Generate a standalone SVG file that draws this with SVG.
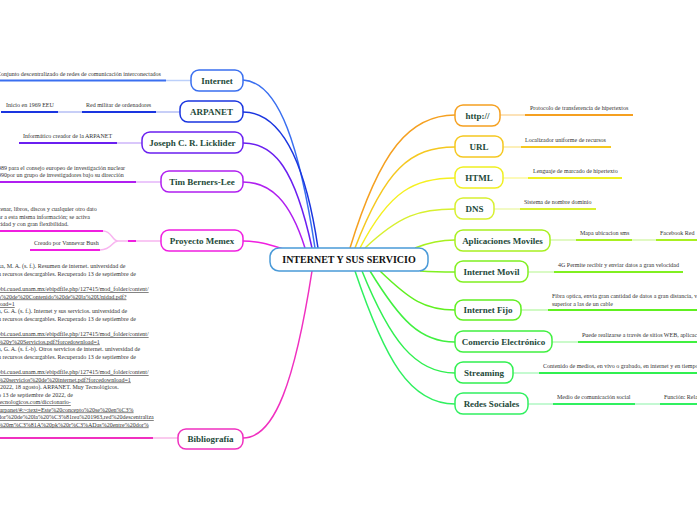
<svg xmlns="http://www.w3.org/2000/svg" width="697" height="520" viewBox="0 0 697 520">
<style>
.n{fill:#fff;stroke-width:1.5}
.t{font-family:"Liberation Serif",serif;font-weight:bold;font-size:9px;fill:#1e4a3a;text-anchor:middle}
.l{font-family:"Liberation Serif",serif;font-size:6px;fill:#333}
.u{text-decoration:underline}
.c{fill:none;stroke-width:1.5}
.k{fill:none;stroke-width:2}
</style>
<rect width="697" height="520" fill="#fff"/>
<g id="connectors">
<path class="c" stroke="#3a6ff0" d="M315,248 C300,150 280,82 243,80"/>
<path class="c" stroke="#1a35e0" d="M318,248 C305,160 280,112 243,112"/>
<path class="c" stroke="#6a1ff0" d="M312,248 C295,170 275,143 243,143"/>
<path class="c" stroke="#b01ff0" d="M305,248 C290,200 270,182 243,182"/>
<path class="c" stroke="#f01fe0" d="M290,251 C270,245 260,241 243,241"/>
<path class="c" stroke="#f030c0" d="M312,271 C295,380 275,438 243,438"/>
<path class="c" stroke="#f5a020" d="M350,248 C380,150 410,115 455,115"/>
<path class="c" stroke="#f5c820" d="M355,248 C385,170 410,147 455,147"/>
<path class="c" stroke="#f5f020" d="M360,248 C390,190 415,178 455,178"/>
<path class="c" stroke="#d8f030" d="M365,248 C400,215 420,209 455,209"/>
<path class="c" stroke="#a8f020" d="M415,248 C430,242 440,240 455,240"/>
<path class="c" stroke="#80f020" d="M420,271 C435,272 440,272 455,272"/>
<path class="c" stroke="#60f020" d="M380,271 C410,300 425,310 455,310"/>
<path class="c" stroke="#40f040" d="M370,271 C400,320 420,342 455,342"/>
<path class="c" stroke="#30f050" d="M362,271 C390,340 415,373 455,373"/>
<path class="c" stroke="#30f060" d="M355,271 C385,360 410,404 455,404"/>
<path class="k" stroke="#3a6ff0" d="M0,80.5H166"/><path class="c" stroke="#bcd0fa" d="M166,80.5H191"/>
<path class="k" stroke="#1a35e0" d="M1,112H58M82,112H156"/><path class="c" stroke="#b5bff5" d="M58,112H82M156,112H180"/>
<path class="k" stroke="#6a1ff0" d="M19,143H117"/><path class="c" stroke="#cdb5fa" d="M117,143H142"/>
<path class="k" stroke="#b01ff0" d="M0,182H136"/><path class="c" stroke="#e5b5fa" d="M136,182H161"/>
<path class="k" stroke="#f01fe0" d="M0,231H103M30,250H100M128,241H136"/>
<path class="c" stroke="#f8b5f0" d="M103,231C112,231 112,241 118,241C112,241 112,250 100,250M118,241H128M136,241H161"/>
<path class="k" stroke="#f030c0" d="M0,438H153"/><path class="c" stroke="#f8b8e8" d="M153,438H178"/>
<path class="c" stroke="#fbd8a0" d="M500,115H525"/><path class="k" stroke="#f5a020" d="M525,115H633"/>
<path class="c" stroke="#fbeaa0" d="M503,147H521"/><path class="k" stroke="#f5c820" d="M521,147H611"/>
<path class="c" stroke="#fbf8a0" d="M503,178H528"/><path class="k" stroke="#f0f020" d="M528,178H622"/>
<path class="c" stroke="#eef8b0" d="M494,209H520"/><path class="k" stroke="#d8f030" d="M520,209H596"/>
<path class="c" stroke="#d8f8b0" d="M550,240H576M632,240H656"/><path class="k" stroke="#a8f020" d="M576,240H632M656,240H697"/>
<path class="c" stroke="#ccf8b0" d="M528,272H554"/><path class="k" stroke="#80f020" d="M554,272H683"/>
<path class="c" stroke="#c0f8b0" d="M521,310H548"/><path class="k" stroke="#60f020" d="M548,310H697"/>
<path class="c" stroke="#b8f8b8" d="M552,342H578"/><path class="k" stroke="#40f040" d="M578,342H697"/>
<path class="c" stroke="#b0f8c0" d="M513,373H539"/><path class="k" stroke="#30f050" d="M539,373H697"/>
<path class="c" stroke="#b0f8c4" d="M528,404H553M635,404H660"/><path class="k" stroke="#30f060" d="M553,404H635M660,404H697"/>
</g>
<g id="center"><rect x="270" y="248" width="158" height="23" rx="9" fill="#fff" stroke="#4a9ad8" stroke-width="1.5"/><text x="349" y="263" class="t" style="font-size:10px;fill:#111">INTERNET Y SUS SERVICIO</text></g>
<g id="n-internet"><rect class="n" stroke="#3a6ff0" x="191" y="70" width="52" height="21" rx="8"/><text class="t" x="217" y="84">Internet</text></g>
<g id="n-arpanet"><rect class="n" stroke="#1a35e0" x="180" y="101" width="63" height="21" rx="8"/><text class="t" x="211.5" y="115">ARPANET</text></g>
<g id="n-lick"><rect class="n" stroke="#6a1ff0" x="142" y="132" width="101" height="21" rx="8"/><text class="t" x="192.5" y="146">Joseph C. R. Licklider</text></g>
<g id="n-tim"><rect class="n" stroke="#b01ff0" x="161" y="171" width="82" height="21" rx="8"/><text class="t" x="202" y="185">Tim Berners-Lee</text></g>
<g id="n-memex"><rect class="n" stroke="#f01fe0" x="161" y="230" width="82" height="21" rx="8"/><text class="t" x="202" y="244">Proyecto Memex</text></g>
<g id="n-biblio"><rect class="n" stroke="#f030c0" x="178" y="429" width="65" height="20" rx="8"/><text class="t" x="210.5" y="442">Bibliografía</text></g>
<g id="n-http"><rect class="n" stroke="#f5a020" x="455" y="105" width="45" height="21" rx="8"/><text class="t" x="477.5" y="119">http://</text></g>
<g id="n-url"><rect class="n" stroke="#f5c820" x="455" y="136" width="48" height="21" rx="8"/><text class="t" x="479" y="150">URL</text></g>
<g id="n-html"><rect class="n" stroke="#f0f020" x="455" y="167" width="48" height="21" rx="8"/><text class="t" x="479" y="181">HTML</text></g>
<g id="n-dns"><rect class="n" stroke="#d8f030" x="455" y="198" width="39" height="21" rx="8"/><text class="t" x="474.5" y="212">DNS</text></g>
<g id="n-apps"><rect class="n" stroke="#a8f020" x="455" y="230" width="95" height="21" rx="8"/><text class="t" x="502.5" y="244">Aplicaciones Moviles</text></g>
<g id="n-movil"><rect class="n" stroke="#80f020" x="455" y="261" width="73" height="21" rx="8"/><text class="t" x="491.5" y="275">Internet Movil</text></g>
<g id="n-fijo"><rect class="n" stroke="#60f020" x="455" y="300" width="66" height="20" rx="8"/><text class="t" x="488" y="313">Internet Fijo</text></g>
<g id="n-comercio"><rect class="n" stroke="#40f040" x="455" y="331" width="97" height="21" rx="8"/><text class="t" x="503.5" y="345">Comercio Electrónico</text></g>
<g id="n-stream"><rect class="n" stroke="#30f050" x="455" y="362" width="58" height="21" rx="8"/><text class="t" x="484" y="376">Streaming</text></g>
<g id="n-redes"><rect class="n" stroke="#30f060" x="455" y="393" width="73" height="21" rx="8"/><text class="t" x="491.5" y="407">Redes Sociales</text></g>
<g id="leaves">
<text class="l" x="-3" y="76">Conjunto descentralizado de redes de comunicación interconectados</text>
<text class="l" x="6" y="107">Inicio en 1969 EEU</text>
<text class="l" x="86" y="107">Red militar de ordenadores</text>
<text class="l" x="23" y="138">Informático creador de la ARPANET</text>
<text class="l" x="-2" y="170">989 para el consejo europeo de investigación nuclear</text>
<text class="l" x="-2" y="177">990por un grupo de investigadores bajo su dirección</text>
<text class="l" x="-2" y="211">cenar, libros, discos y cualquier otro dato</text>
<text class="l" x="-2" y="218.5">ar a esta misma información; se activa</text>
<text class="l" x="-2" y="226">cidad y con gran flexibilidad.</text>
<text class="l" x="34" y="245">Creado por Vannevar Bush</text>
<text class="l" x="-2" y="268">ka, M. A. (s. f.). Resumen de internet. universidad de</text>
<text class="l" x="-2" y="276">n recursos descargables. Recuperado 13 de septiembre de</text>
<text class="l u" x="-2" y="291">ebi.cuaed.unam.mx/ebipdfile.php/127415/mod_folder/content/</text>
<text class="l u" x="-2" y="298.5">o%20de%20Contenido%20de%20la%20Unidad.pdf?</text>
<text class="l u" x="-2" y="306">load=1</text>
<text class="l" x="-2" y="313">a, G. A. (s. f.). Internet y sus servicios. universidad de</text>
<text class="l" x="-2" y="321">n recursos descargables. Recuperado 13 de septiembre de</text>
<text class="l u" x="-2" y="336">ebi.cuaed.unam.mx/ebipdfile.php/127415/mod_folder/content/</text>
<text class="l u" x="-2" y="343.5">%20y%20Servicios.pdf?forcedownload=1</text>
<text class="l" x="-2" y="351">a, G. A. (s. f.-b). Otros servicios de internet. universidad de</text>
<text class="l" x="-2" y="359">n recursos descargables. Recuperado 13 de septiembre de</text>
<text class="l u" x="-2" y="374">ebi.cuaed.unam.mx/ebipdfile.php/127415/mod_folder/content/</text>
<text class="l u" x="-2" y="381.5">%20servicios%20de%20internet.pdf?forcedownload=1</text>
<text class="l" x="-2" y="389">(2022, 18 agosto). ARPANET. Muy Tecnológicos.</text>
<text class="l" x="-2" y="396.5">o 13 de septiembre de 2022, de</text>
<text class="l u" x="-2" y="404">tecnologicos.com/diccionario-</text>
<text class="l u" x="-2" y="411.5">/arpanet/#:~:text=Este%20concepto%20se%20en%C3%</text>
<text class="l u" x="-2" y="419">dor%20de%20la%20%C3%81rea%201963,red%20descentraliza</text>
<text class="l u" x="-2" y="426.5">%20m%C3%81A%20pk%20r%C3%ADas%20entre%20dor%</text>
<text class="l" x="530" y="110">Protocolo de transferencia de hipertextos</text>
<text class="l" x="525" y="142">Localizador uniforme de recursos</text>
<text class="l" x="533" y="173">Lenguaje de marcado de hipertexto</text>
<text class="l" x="524" y="204">Sistema de nombre dominio</text>
<text class="l" x="580" y="235">Mapa ubicacion sms</text>
<text class="l" x="660" y="235">Facebook Red</text>
<text class="l" x="558" y="267">4G Permite recibir y enviar datos a gran velocidad</text>
<text class="l" x="552" y="298">Fibra optica, envia gran cantidad de datos a gran distancia, v</text>
<text class="l" x="552" y="305.5">superior a las de un cable</text>
<text class="l" x="582" y="337">Puede realizarse a través de sitios WEB, aplicac</text>
<text class="l" x="543" y="368">Contenido de medios, en vivo o grabado, en internet y en tiempo</text>
<text class="l" x="557" y="399">Medio de comunicación social</text>
<text class="l" x="664" y="399">Función: Rela</text>
</g>
</svg>
